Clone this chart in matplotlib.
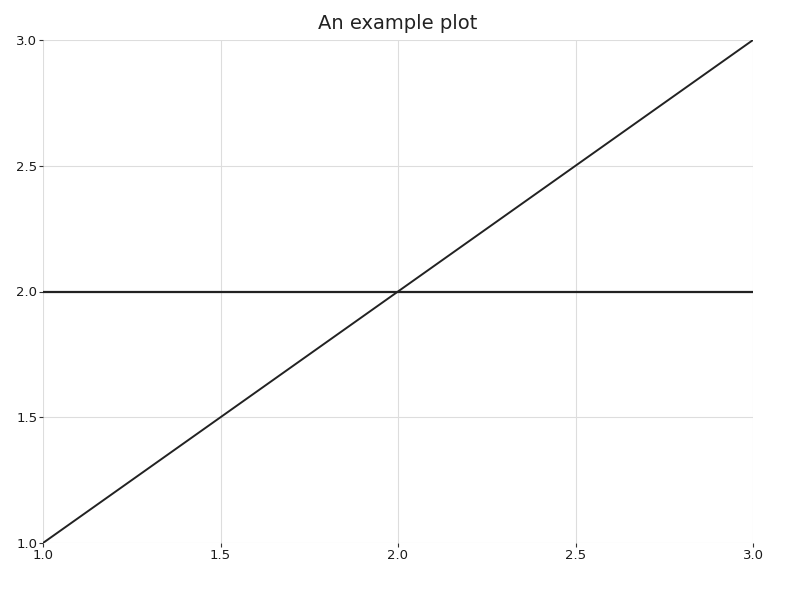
import matplotlib
matplotlib.use("Agg")
import matplotlib.pyplot as plt

# data
x_vals = [1.0, 2.0, 3.0]
diag_vals = [1.0, 2.0, 3.0]
flat_vals = [2.0, 2.0, 2.0]
ticks = [1.0, 1.5, 2.0, 2.5, 3.0]

fig = plt.figure(figsize=(7.99, 5.91), dpi=100)
ax = fig.add_axes([43/799, 1 - 543/591, (753 - 43)/799, (543 - 40)/591])

ax.plot(x_vals, diag_vals, color="#222222", lw=1.4, solid_capstyle="butt")
ax.plot(x_vals, flat_vals, color="#222222", lw=1.6, solid_capstyle="butt")

ax.set_xlim(1.0, 3.0)
ax.set_ylim(1.0, 3.0)
ax.set_xticks(ticks)
ax.set_yticks(ticks)
ax.set_xticklabels(["%.1f" % t for t in ticks])
ax.set_yticklabels(["%.1f" % t for t in ticks])
ax.grid(True, color="#dddddd", lw=0.8)
ax.set_axisbelow(True)
for s in ax.spines.values():
    s.set_visible(False)
ax.tick_params(length=3, width=0.8, color="#333333", labelsize=9.5,
               labelcolor="#1a1a1a", pad=1)

ax.set_title("An example plot", fontsize=14, color="#222222", pad=8)

fig.savefig("out.png", dpi=100)
